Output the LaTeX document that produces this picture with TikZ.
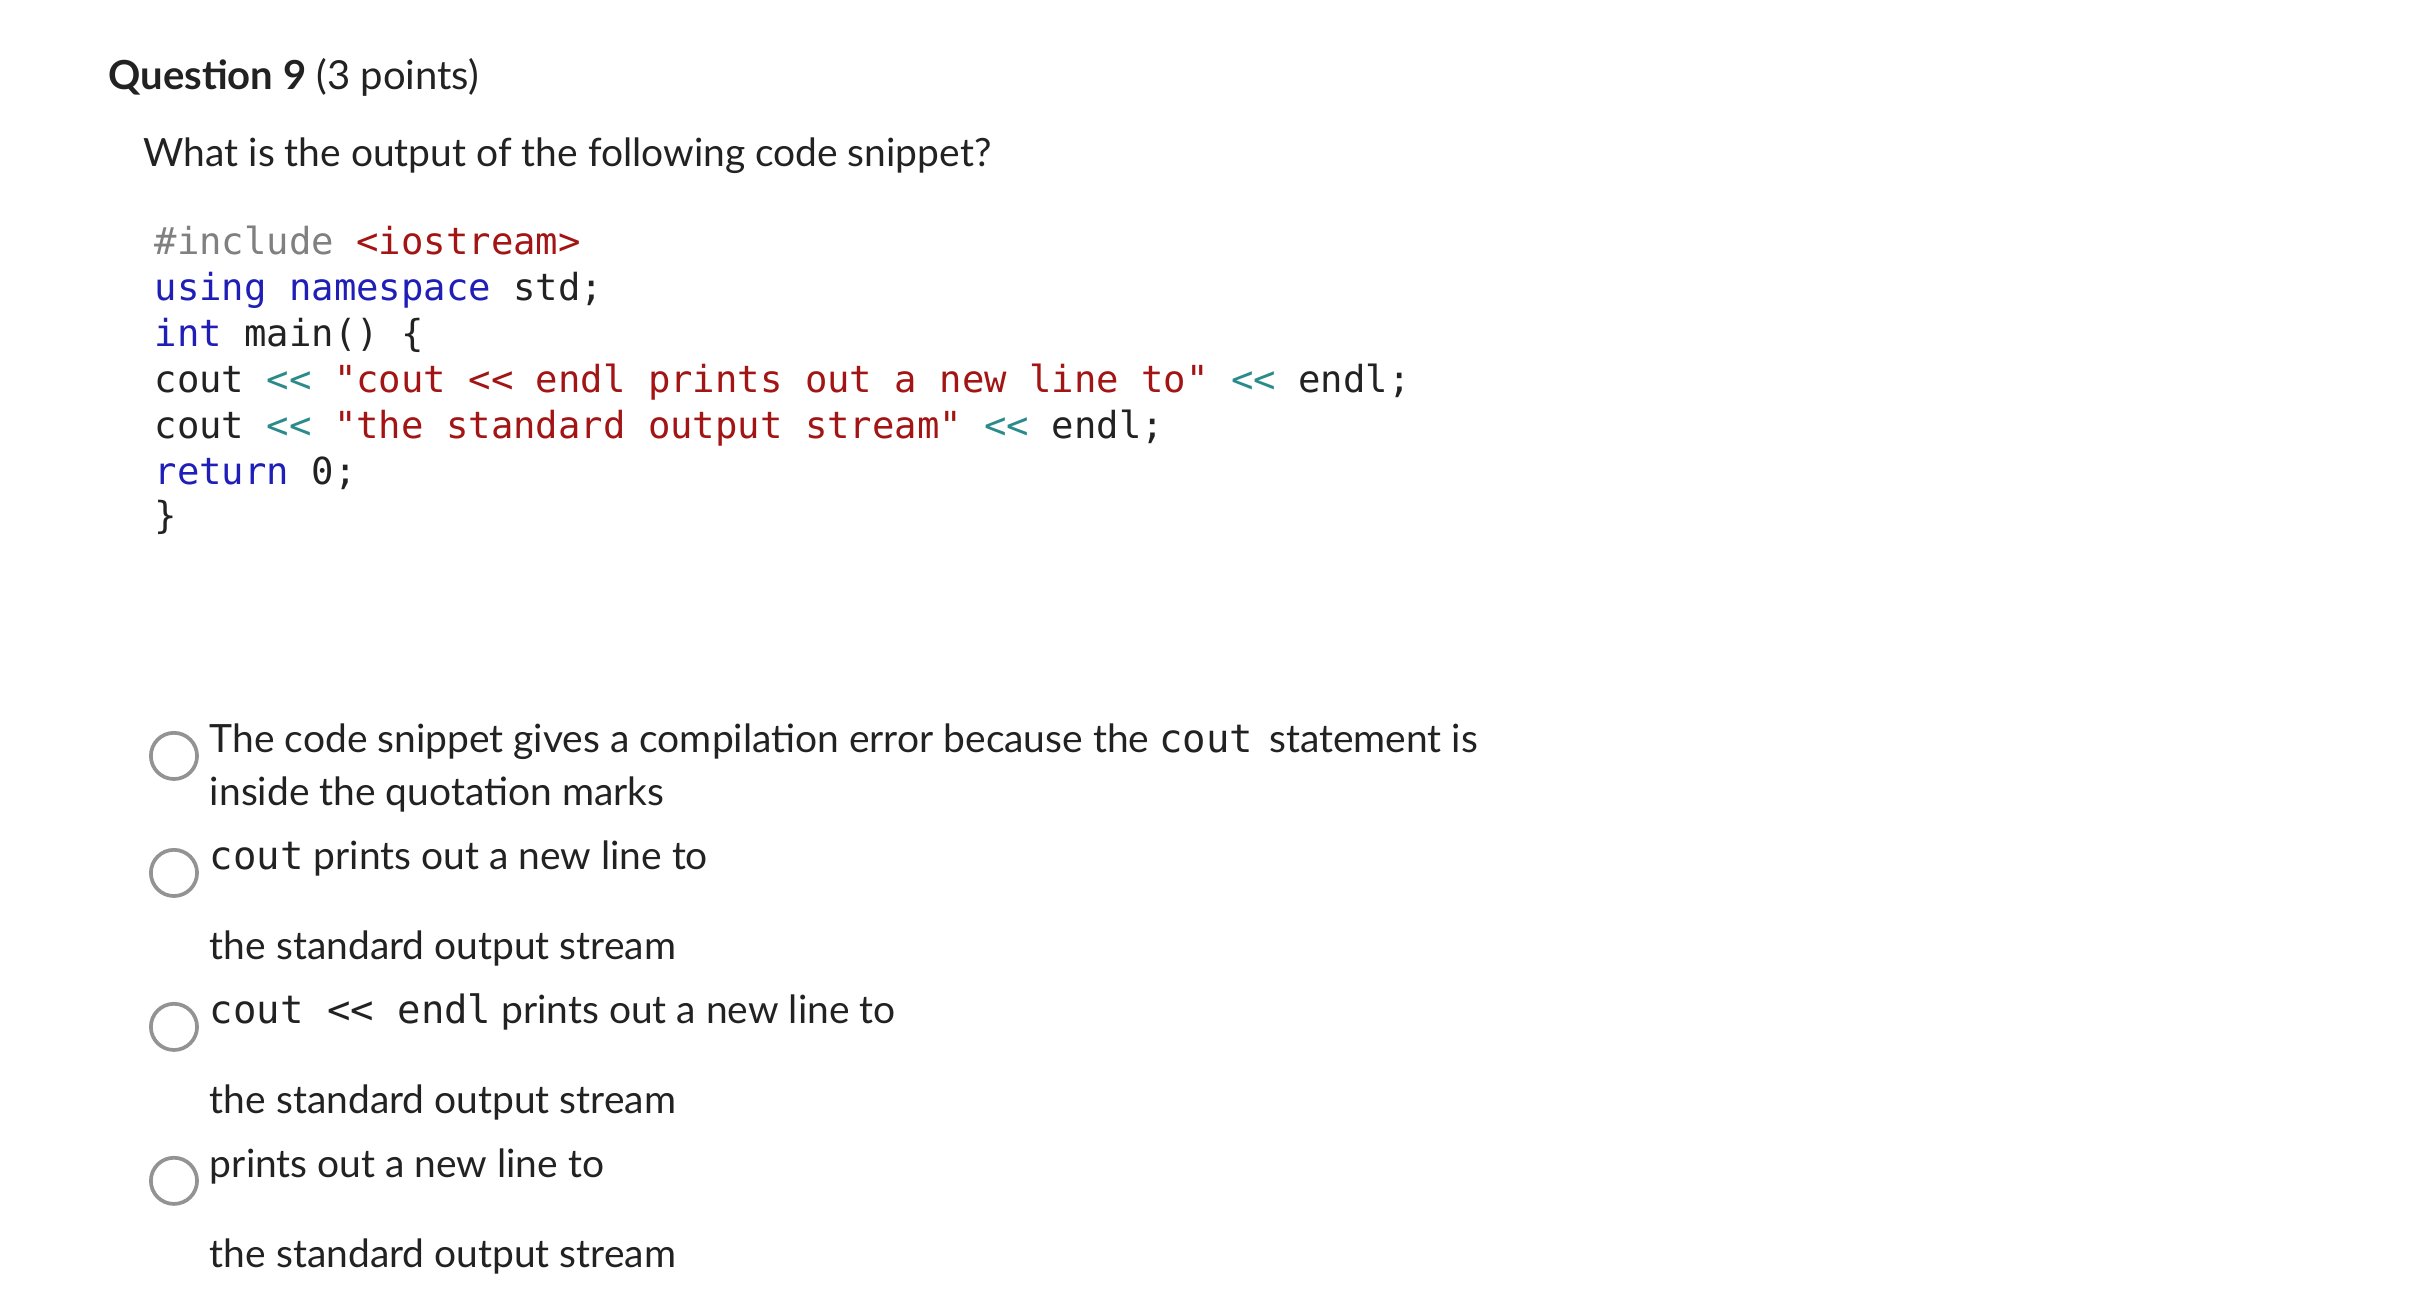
\documentclass[tikz,border=0pt]{standalone}
\usepackage{fontspec}
\setmainfont{Lato}
\setmonofont{DejaVu Sans Mono}
\definecolor{cgray}{HTML}{808080}
\definecolor{cred}{HTML}{A31515}
\definecolor{cblue}{HTML}{1F1FB8}
\definecolor{cteal}{HTML}{2B8A8A}
\definecolor{ctext}{HTML}{222222}
\begin{document}
\begin{tikzpicture}[x=0.5pt,y=-0.5pt,
  txt/.style={anchor=base west,inner sep=0,font=\fontsize{12.65pt}{14pt}\selectfont,text=ctext},
  code/.style={anchor=base west,inner sep=0,font=\fontsize{12.1pt}{14pt}\ttfamily,text=ctext},
  radio/.style={draw=gray!85,line width=1.2pt,circle,minimum size=15pt,inner sep=0}]
\useasboundingbox (0,0) rectangle (1568,852);
\fill[white] (0,0) rectangle (1568,852);
\node[txt,font=\fontsize{13pt}{14pt}\selectfont] (q) at (70,58) {\textbf{Question 9} (3 points)};
\node[txt] (w) at (93,108) {What is the output of the following code snippet?};
\node[code] (c1) at (100,165) {\textcolor{cgray}{\#include} \textcolor{cred}{<iostream>}};
\node[code] (c2) at (100,195) {\textcolor{cblue}{using namespace} std;};
\node[code] (c3) at (100,225) {\textcolor{cblue}{int} main() \{};
\node[code] (c4) at (100,255) {cout \textcolor{cteal}{<<} \textcolor{cred}{"cout << endl prints out a new line to"} \textcolor{cteal}{<<} endl;};
\node[code] (c5) at (100,285) {cout \textcolor{cteal}{<<} \textcolor{cred}{"the standard output stream"} \textcolor{cteal}{<<} endl;};
\node[code] (c6) at (100,315) {\textcolor{cblue}{return} 0;};
\node[code] (c7) at (100,343) {\}};
\node[radio] (r1) at (113,491) {};
\node[radio] (r2) at (113,567) {};
\node[radio] (r3) at (113,667) {};
\node[radio] (r4) at (113,767) {};
\node[txt] (a1) at (136,489) {The code snippet gives a compilation error because the {\ttfamily cout}\, statement is};
\node[txt] (a1b) at (136,523) {inside the quotation marks};
\node[txt] (a2) at (136,565) {{\ttfamily cout} prints out a new line to};
\node[txt] (a2b) at (136,623) {the standard output stream};
\node[txt] (a3) at (136,665) {{\ttfamily cout << endl} prints out a new line to};
\node[txt] (a3b) at (136,723) {the standard output stream};
\node[txt] (a4) at (136,765) {prints out a new line to};
\node[txt] (a4b) at (136,823) {the standard output stream};
\end{tikzpicture}
\end{document}
